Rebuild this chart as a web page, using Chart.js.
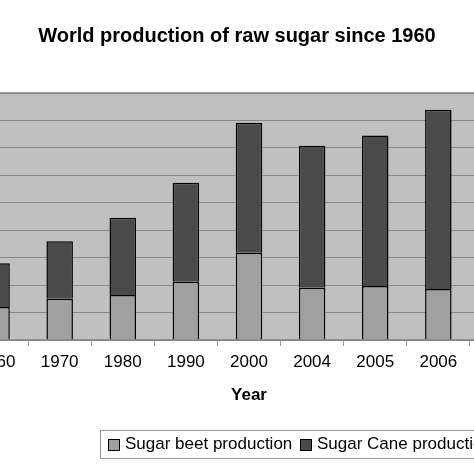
<!DOCTYPE html>
<html><head><meta charset="utf-8">
<script src="https://cdn.jsdelivr.net/npm/chart.js@4"></script>
<style>
body{margin:0;width:474px;height:474px;overflow:hidden;position:relative;background:#fff;font-family:"Liberation Sans",Arial,sans-serif}
#wrap{position:absolute;left:-60px;top:0;width:700px;height:474px}
#title{position:absolute;top:24px;left:0;width:474px;text-align:center;font-weight:bold;font-size:20px;color:#000}
#leg{position:absolute;left:100px;top:430px;width:400px;height:27px;border:1px solid #999;border-right:none;font-size:17px;color:#000;white-space:nowrap}
#leg span.b{display:inline-block;width:10px;height:10px;border:1px solid #000;vertical-align:middle;margin:0 5px 0 7px}
#leg div{position:absolute;top:3px}
</style></head><body>
<div id="wrap"><canvas id="c" width="700" height="474"></canvas></div>
<div id="title">World production of raw sugar since 1960</div>
<div id="leg"><div style="left:0"><span class="b" style="background:#a0a0a0"></span>Sugar beet production</div><div style="left:192px"><span class="b" style="background:#4a4a4a"></span>Sugar Cane production</div></div>
<script>
const years=["1960","1970","1980","1990","2000","2004","2005","2006","2007"];
const beet=[1.2,1.5,1.64,2.12,3.18,1.9,1.97,1.86,1.9];
const cane=[1.6,2.1,2.81,3.61,4.74,5.18,5.48,6.53,6.6];
const bg={id:'bg',beforeDraw(c){const a=c.chartArea,x=c.ctx;x.save();x.fillStyle='#c0c0c0';x.fillRect(a.left,a.top,a.width,a.height);x.restore();},
afterDatasetsDraw(c){const a=c.chartArea,x=c.ctx;x.save();x.strokeStyle='#808080';x.lineWidth=1.5;x.beginPath();x.moveTo(a.left,a.top);x.lineTo(a.right,a.top);x.moveTo(a.left,a.bottom);x.lineTo(a.right,a.bottom);x.stroke();x.restore();}};
new Chart(document.getElementById('c'),{type:'bar',
data:{labels:years,datasets:[
{label:'Sugar beet production',data:beet,backgroundColor:'#a0a0a0',borderColor:'#000',borderWidth:1.5},
{label:'Sugar Cane production',data:cane,backgroundColor:'#4a4a4a',borderColor:'#000',borderWidth:1.5}]},
options:{responsive:false,animation:false,
layout:{padding:{left:25,right:107,top:93,bottom:64}},
plugins:{legend:{display:false},tooltip:{enabled:false}},
datasets:{bar:{barPercentage:0.42,categoryPercentage:1}},
scales:{
x:{stacked:true,afterFit(s){s.height=70;},
 grid:{drawOnChartArea:false,color:'#999',tickLength:6,offset:true},border:{display:false},
 ticks:{color:'#000',font:{size:17,family:'"Liberation Sans",Arial'},padding:6,maxRotation:0},
 title:{display:true,text:'Year',color:'#000',font:{size:17,weight:'bold',family:'"Liberation Sans",Arial'},padding:{top:6}}},
y:{stacked:true,min:0,max:9,ticks:{display:false,stepSize:1},grid:{color:'#888',drawTicks:false},border:{display:false}}
}},plugins:[bg]});
</script></body></html>
